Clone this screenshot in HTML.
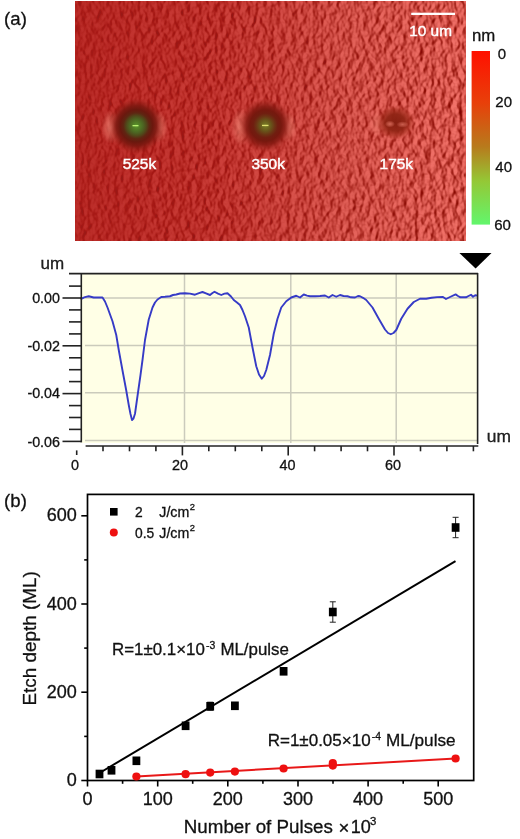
<!DOCTYPE html>
<html><head><meta charset="utf-8"><title>Figure</title>
<style>
html,body{margin:0;padding:0;background:#fff;}
body{width:520px;height:839px;overflow:hidden;}
svg{display:block;}
text{font-family:"Liberation Sans",Arial,sans-serif;fill:#111;stroke:#111;stroke-width:0.3px;}
.w text{fill:#fff;stroke:#fff;stroke-width:0.45px;}
</style></head><body>
<svg width="520" height="839" viewBox="0 0 520 839">
<defs>
<linearGradient id="bg" x1="0" x2="1" y1="0" y2="0">
<stop offset="0" stop-color="#b32420"/><stop offset="0.35" stop-color="#ba2d28"/><stop offset="0.7" stop-color="#cb4a42"/><stop offset="1" stop-color="#d4554c"/>
</linearGradient>
<linearGradient id="cb" x1="0" x2="0" y1="0" y2="1">
<stop offset="0" stop-color="#ff1000"/><stop offset="0.3" stop-color="#e8400a"/><stop offset="0.55" stop-color="#b87a1c"/><stop offset="0.75" stop-color="#94c836"/><stop offset="1" stop-color="#62f66c"/>
</linearGradient>
<radialGradient id="p1"><stop offset="0" stop-color="#64a030"/><stop offset="0.08" stop-color="#548628"/><stop offset="0.25" stop-color="#4c6422"/><stop offset="0.36" stop-color="#50481a"/><stop offset="0.46" stop-color="#5e2612"/><stop offset="0.58" stop-color="#6a180e"/><stop offset="0.72" stop-color="#7c1810" stop-opacity="0.9"/><stop offset="1" stop-color="#9a1c14" stop-opacity="0"/></radialGradient>
<radialGradient id="p2"><stop offset="0" stop-color="#84862c"/><stop offset="0.08" stop-color="#727022"/><stop offset="0.22" stop-color="#68521a"/><stop offset="0.34" stop-color="#6c3414"/><stop offset="0.45" stop-color="#701e10"/><stop offset="0.58" stop-color="#76180e"/><stop offset="0.72" stop-color="#861a12" stop-opacity="0.88"/><stop offset="1" stop-color="#a02018" stop-opacity="0"/></radialGradient>
<radialGradient id="p3"><stop offset="0" stop-color="#882012"/><stop offset="0.5" stop-color="#902414" stop-opacity="0.95"/><stop offset="0.78" stop-color="#a02a1a" stop-opacity="0.6"/><stop offset="1" stop-color="#b03020" stop-opacity="0"/></radialGradient>
<radialGradient id="halo"><stop offset="0" stop-color="#ee8474" stop-opacity="0.85"/><stop offset="0.5" stop-color="#ee8070" stop-opacity="0.5"/><stop offset="1" stop-color="#f08878" stop-opacity="0"/></radialGradient>
<filter id="emb" x="0" y="0" width="100%" height="100%" color-interpolation-filters="sRGB">
<feTurbulence type="fractalNoise" baseFrequency="0.18 0.135" numOctaves="2" seed="5" result="n"/>
<feDiffuseLighting in="n" surfaceScale="3" diffuseConstant="1" lighting-color="#ffffff" result="l"><feDistantLight azimuth="190" elevation="50"/></feDiffuseLighting>
<feComposite in="SourceGraphic" in2="l" operator="arithmetic" k1="0" k2="1" k3="0.46" k4="-0.335"/>
</filter>
<linearGradient id="fadeL" x1="0" x2="1"><stop offset="0" stop-color="#fff" stop-opacity="0.3"/><stop offset="0.5" stop-color="#fff" stop-opacity="0.6"/><stop offset="1" stop-color="#fff" stop-opacity="1"/></linearGradient>
<mask id="mk"><rect x="75" y="1" width="391" height="240" fill="url(#fadeL)"/></mask>
<clipPath id="cp"><rect x="75" y="1" width="391" height="240"/></clipPath>
</defs>

<!-- panel (a): AFM map -->
<rect x="75" y="1" width="391" height="240" fill="url(#bg)"/>
<g clip-path="url(#cp)">
<g mask="url(#mk)"><rect x="75" y="1" width="391" height="240" fill="url(#bg)" filter="url(#emb)"/></g>
<ellipse cx="111" cy="127" rx="10" ry="17" fill="url(#halo)"/>
<ellipse cx="159" cy="127" rx="9" ry="16" fill="url(#halo)"/>
<ellipse cx="241" cy="127" rx="10" ry="19" fill="url(#halo)"/>
<ellipse cx="288" cy="127" rx="9" ry="15" fill="url(#halo)"/>
<ellipse cx="377" cy="124" rx="8" ry="13" fill="url(#halo)" opacity="0.6"/>
<circle cx="136.3" cy="125.8" r="28" fill="url(#p1)"/>
<circle cx="265.5" cy="125.5" r="27" fill="url(#p2)"/>
<ellipse cx="395.5" cy="122.5" rx="19" ry="17" fill="url(#p3)"/>
<ellipse cx="390" cy="124" rx="5" ry="3.4" fill="url(#halo)" opacity="0.8"/><ellipse cx="402.5" cy="124.5" rx="6" ry="3.2" fill="url(#halo)" opacity="0.7"/>
<rect x="132.5" y="125" width="6" height="1.3" fill="#b8f070"/>
<rect x="262" y="124.8" width="6.5" height="1.3" fill="#e0e070"/>
</g>
<g font-size="15.4" class="w">
<text x="139.4" y="168.8" text-anchor="middle">525k</text>
<text x="268.2" y="168.8" text-anchor="middle">350k</text>
<text x="396.3" y="168.8" text-anchor="middle">175k</text>
<text x="430.6" y="35.8" text-anchor="middle" font-size="15.4">10 um</text>
</g>
<rect x="411.2" y="12.7" width="43.8" height="2.3" fill="#fff"/>
<text x="4.1" y="25.4" font-size="18.6">(a)</text>
<text x="472" y="41.3" font-size="16.8">nm</text>
<rect x="471.6" y="51" width="18.4" height="173.6" fill="url(#cb)"/>
<g font-size="15">
<text x="497.8" y="59">0</text>
<text x="495.3" y="107">20</text>
<text x="495.3" y="171.5">40</text>
<text x="494.2" y="229.7">60</text>
</g>

<!-- line profile -->
<rect x="81.5" y="274" width="396" height="169" fill="#ffffe6"/>
<g stroke="#cbcbbc" stroke-width="1.5">
<line x1="85" y1="298" x2="477" y2="298"/><line x1="85" y1="345.5" x2="477" y2="345.5"/><line x1="85" y1="392.7" x2="477" y2="392.7"/><line x1="85" y1="440.6" x2="477" y2="440.6"/>
<line x1="184.5" y1="274" x2="184.5" y2="443"/><line x1="290.8" y1="274" x2="290.8" y2="443"/><line x1="396.2" y1="274" x2="396.2" y2="443"/>
</g>
<polyline points="81.25,298.75 85.00,297.20 88.75,296.25 93.75,297.50 102.50,297.50 105.00,301.50 107.50,307.50 112.50,321.25 116.25,335.00 118.75,350.00 122.50,370.50 126.25,390.50 128.75,405.00 130.50,414.00 132.00,420.00 133.50,418.50 135.00,413.75 137.50,396.00 140.50,375.00 142.50,360.00 145.00,340.00 148.75,319.50 152.50,307.50 155.00,302.50 157.50,299.50 161.25,297.00 165.00,296.75 170.00,296.25 173.00,295.00 176.25,294.50 180.00,293.50 185.00,293.25 190.00,293.60 195.00,294.70 199.00,293.20 202.50,292.00 206.00,293.40 210.00,295.00 212.50,293.00 214.50,291.75 218.00,293.60 221.25,295.00 224.50,293.60 227.50,293.25 231.00,296.50 233.75,300.00 237.00,302.50 240.00,305.00 242.50,310.00 245.00,316.25 248.75,327.50 252.50,347.50 256.25,366.25 259.00,374.50 261.75,378.75 264.00,376.00 266.25,370.00 270.00,355.00 273.75,333.75 277.50,318.75 281.25,307.50 286.25,301.25 291.25,297.50 296.25,295.75 300.00,297.50 303.75,294.50 307.00,295.60 310.00,296.25 315.00,296.25 320.00,296.00 325.00,295.50 328.75,297.50 332.50,295.00 336.25,296.75 340.00,295.00 343.50,296.00 347.50,296.25 351.00,297.30 355.00,297.50 358.00,296.00 360.00,296.25 363.00,297.80 366.25,300.00 372.50,307.50 378.75,318.75 385.00,329.50 388.00,333.00 390.75,334.25 393.50,333.00 396.25,330.00 401.25,318.75 407.50,308.75 413.75,302.00 420.00,298.75 426.25,298.75 431.50,297.70 437.00,297.10 443.00,297.00 446.00,299.00 450.00,297.00 455.60,294.40 458.00,296.00 460.40,297.30 466.00,297.30 468.50,296.00 471.00,294.80 473.00,296.70 475.20,295.20 476.50,295.50" fill="none" stroke="#363bc6" stroke-width="1.9" stroke-linejoin="round" stroke-linecap="round"/>
<g stroke="#222" stroke-width="1.6" fill="none">
<line x1="69" y1="273.6" x2="478" y2="273.6"/>
<line x1="81.3" y1="273" x2="81.3" y2="442.4"/>
<line x1="477.6" y1="273" x2="477.6" y2="444"/>
<line x1="85.6" y1="446" x2="478.3" y2="446"/>
<line x1="69" y1="286.1" x2="81" y2="286.1"/><line x1="62.5" y1="298.0" x2="81" y2="298.0"/><line x1="69" y1="309.9" x2="81" y2="309.9"/><line x1="69" y1="321.9" x2="81" y2="321.9"/><line x1="69" y1="333.9" x2="81" y2="333.9"/><line x1="62.5" y1="345.8" x2="81" y2="345.8"/><line x1="69" y1="357.8" x2="81" y2="357.8"/><line x1="69" y1="369.7" x2="81" y2="369.7"/><line x1="69" y1="381.6" x2="81" y2="381.6"/><line x1="62.5" y1="393.6" x2="81" y2="393.6"/><line x1="69" y1="405.6" x2="81" y2="405.6"/><line x1="69" y1="417.5" x2="81" y2="417.5"/><line x1="69" y1="429.4" x2="81" y2="429.4"/><line x1="62.5" y1="441.4" x2="81" y2="441.4"/>
<line x1="103.0" y1="446" x2="103.0" y2="451.3"/><line x1="129.5" y1="446" x2="129.5" y2="451.3"/><line x1="155.9" y1="446" x2="155.9" y2="451.3"/><line x1="182.4" y1="446" x2="182.4" y2="455.4"/><line x1="208.8" y1="446" x2="208.8" y2="451.3"/><line x1="235.3" y1="446" x2="235.3" y2="451.3"/><line x1="261.8" y1="446" x2="261.8" y2="451.3"/><line x1="288.2" y1="446" x2="288.2" y2="455.4"/><line x1="314.6" y1="446" x2="314.6" y2="451.3"/><line x1="341.1" y1="446" x2="341.1" y2="451.3"/><line x1="367.5" y1="446" x2="367.5" y2="451.3"/><line x1="394.0" y1="446" x2="394.0" y2="455.4"/><line x1="420.5" y1="446" x2="420.5" y2="451.3"/><line x1="446.9" y1="446" x2="446.9" y2="451.3"/><line x1="473.4" y1="446" x2="473.4" y2="451.3"/><line x1="76.7" y1="450.4" x2="76.7" y2="455"/>
</g>
<path d="M459.4 253H491.5L475.6 268.6Z" fill="#000"/>
<text x="40.6" y="268.8" font-size="17" style="fill:#222">um</text>
<text x="486.8" y="441.8" font-size="17.4" style="fill:#222">um</text>
<g font-size="14.3" text-anchor="end" style="fill:#222;stroke-width:0.4px">
<text x="60" y="303">0.00</text><text x="60" y="350.5">-0.02</text><text x="60" y="397.7">-0.04</text><text x="60" y="446.5">-0.06</text>
</g>
<g font-size="14.4" text-anchor="middle" style="stroke-width:0.4px">
<text x="75" y="470.4">0</text><text x="180" y="470.4">20</text><text x="287.5" y="470.4">40</text><text x="393" y="470.4">60</text>
</g>

<!-- panel (b) -->
<text x="4.1" y="507" font-size="18.6">(b)</text>
<rect x="87.5" y="494.4" width="386.2" height="286.1" fill="none" stroke="#000" stroke-width="1.7"/>
<g stroke="#000" stroke-width="1.6"><line x1="87.5" y1="780.5" x2="87.5" y2="786.5"/><line x1="122.6" y1="780.5" x2="122.6" y2="783.8"/><line x1="157.7" y1="780.5" x2="157.7" y2="786.5"/><line x1="192.7" y1="780.5" x2="192.7" y2="783.8"/><line x1="227.8" y1="780.5" x2="227.8" y2="786.5"/><line x1="262.9" y1="780.5" x2="262.9" y2="783.8"/><line x1="298.0" y1="780.5" x2="298.0" y2="786.5"/><line x1="333.0" y1="780.5" x2="333.0" y2="783.8"/><line x1="368.1" y1="780.5" x2="368.1" y2="786.5"/><line x1="403.2" y1="780.5" x2="403.2" y2="783.8"/><line x1="438.2" y1="780.5" x2="438.2" y2="786.5"/><line x1="81.3" y1="780.5" x2="87.5" y2="780.5"/><line x1="84.2" y1="736.4" x2="87.5" y2="736.4"/><line x1="81.3" y1="692.2" x2="87.5" y2="692.2"/><line x1="84.2" y1="648.1" x2="87.5" y2="648.1"/><line x1="81.3" y1="604.0" x2="87.5" y2="604.0"/><line x1="84.2" y1="559.9" x2="87.5" y2="559.9"/><line x1="81.3" y1="515.8" x2="87.5" y2="515.8"/></g>
<g font-size="18"><text x="87.5" y="804.9" text-anchor="middle">0</text><text x="157.7" y="804.9" text-anchor="middle">100</text><text x="227.8" y="804.9" text-anchor="middle">200</text><text x="298.0" y="804.9" text-anchor="middle">300</text><text x="368.1" y="804.9" text-anchor="middle">400</text><text x="438.2" y="804.9" text-anchor="middle">500</text><text x="76.7" y="786.1" text-anchor="end">0</text><text x="76.7" y="697.9" text-anchor="end">200</text><text x="76.7" y="609.6" text-anchor="end">400</text><text x="76.7" y="521.4" text-anchor="end">600</text></g>
<line x1="101.2" y1="772" x2="455.5" y2="561.2" stroke="#000" stroke-width="2"/>
<line x1="136.4" y1="776.5" x2="455.6" y2="758.5" stroke="#e81818" stroke-width="2"/>
<rect x="95.6" y="769.7" width="7.8" height="8.6" fill="#000"/><rect x="107.6" y="766.0" width="7.8" height="8.6" fill="#000"/><rect x="132.5" y="756.5" width="7.8" height="8.6" fill="#000"/><path d="M185.6 722.8V728.8M182.6 722.8h6M182.6 728.8h6" stroke="#222" stroke-width="1" fill="none"/><rect x="181.7" y="721.5" width="7.8" height="8.6" fill="#000"/><path d="M210.2 702.2V710.2M207.2 702.2h6M207.2 710.2h6" stroke="#222" stroke-width="1" fill="none"/><rect x="206.3" y="702.0" width="7.8" height="8.6" fill="#000"/><path d="M234.9 702.8V708.8M231.9 702.8h6M231.9 708.8h6" stroke="#222" stroke-width="1" fill="none"/><rect x="231.0" y="701.5" width="7.8" height="8.6" fill="#000"/><path d="M283.6 668.2V674.2M280.6 668.2h6M280.6 674.2h6" stroke="#222" stroke-width="1" fill="none"/><rect x="279.7" y="667.0" width="7.8" height="8.6" fill="#000"/><path d="M332.8 601.8V622.2M329.8 601.8h6M329.8 622.2h6" stroke="#222" stroke-width="1" fill="none"/><rect x="328.9" y="607.7" width="7.8" height="8.6" fill="#000"/><path d="M455.6 517.3V537.7M452.6 517.3h6M452.6 537.7h6" stroke="#222" stroke-width="1" fill="none"/><rect x="451.7" y="523.2" width="7.8" height="8.6" fill="#000"/>
<g fill="#ee1010"><circle cx="136.4" cy="776.5" r="4.1"/><circle cx="185.6" cy="774.2" r="4.1"/><circle cx="210.2" cy="772.6" r="4.1"/><circle cx="234.9" cy="771.6" r="4.1"/><circle cx="283.6" cy="768.5" r="4.1"/><circle cx="332.8" cy="765.6" r="4.1"/><circle cx="332.8" cy="763.2" r="4.1"/><circle cx="455.6" cy="758.5" r="4.1"/></g>
<rect x="110" y="508" width="7.6" height="7.6" fill="#000"/>
<circle cx="113.8" cy="532.5" r="4" fill="#ee1010"/>
<g font-size="13.8">
<text x="135" y="516.8">2</text><text x="159.3" y="516.8" font-size="14.2">J/cm<tspan font-size="9.4" dy="-6.6" dx="0.6">2</tspan></text>
<text x="135" y="537.5">0.5</text><text x="159.3" y="537.5" font-size="14.2">J/cm<tspan font-size="9.4" dy="-6.6" dx="0.6">2</tspan></text>
</g>
<g font-size="16.9"><text x="112" y="655">R=1±0.1×10</text><text x="206.1" y="648.9" font-size="10.4">-3</text><text x="220.4" y="655">ML/pulse</text></g>
<g font-size="17"><text x="267.7" y="746.3">R=1±0.05×10</text><text x="371.8" y="740.2" font-size="10.4">-4</text><text x="386" y="746.3" font-size="17.15">ML/pulse</text></g>
<text transform="translate(36.2 638.4) rotate(-90)" text-anchor="middle" font-size="18.9">Etch depth (ML)</text>
<g font-size="18.75"><text x="183.8" y="833.2">Number of Pulses</text><text x="338.6" y="833.6" font-size="18.6">×</text><text x="350.8" y="833.2" font-size="18">10</text><text x="369.9" y="824.7" font-size="11.4">3</text></g>
</svg>
</body></html>
